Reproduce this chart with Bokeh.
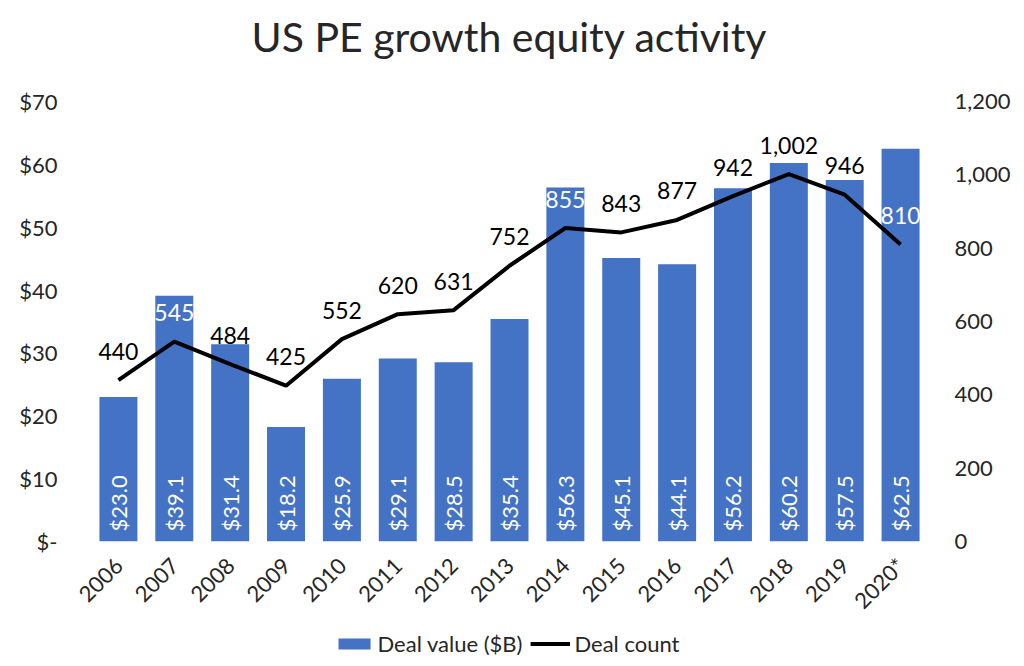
import math

from bokeh.core.properties import value
from bokeh.embed import file_html
from bokeh.layouts import column
from bokeh.models import (ColumnDataSource, FixedTicker, Legend, LegendItem,
                          LinearAxis, Range1d, Title)
from bokeh.plotting import figure
from bokeh.resources import INLINE

years = ['2006', '2007', '2008', '2009', '2010', '2011', '2012', '2013',
         '2014', '2015', '2016', '2017', '2018', '2019', '2020*']
deal_value = [23.0, 39.1, 31.4, 18.2, 25.9, 29.1, 28.5, 35.4,
              56.3, 45.1, 44.1, 56.2, 60.2, 57.5, 62.5]
deal_count = [440, 545, 484, 425, 552, 620, 631, 752,
              855, 843, 877, 942, 1002, 946, 810]

value_ticks = [0, 10, 20, 30, 40, 50, 60, 70]
count_ticks = [0, 200, 400, 600, 800, 1000, 1200]

FONT = 'Lato'
TXT = '#262626'
BLUE = '#4472C4'

# count labels sitting inside a bar are drawn white, others black
px_per_unit = 440 / 70
label_colors = []
for v, c in zip(deal_value, deal_count):
    mid = c * 70 / 1200 + 30 / px_per_unit
    label_colors.append('white' if mid < v else 'black')

src = ColumnDataSource(dict(
    year=years,
    value=deal_value,
    count=deal_count,
    value_txt=[f'${v:.1f}' for v in deal_value],
    count_txt=[f'{c:,}' for c in deal_count],
    lab_col=label_colors,
    zero=[0] * len(years),
))

p = figure(width=1008, height=625, x_range=years, y_range=Range1d(0, 70),
           title=None, output_backend='svg', toolbar_location=None,
           frame_width=838, frame_height=440,
           min_border_left=90, min_border_right=80,
           min_border_top=101, min_border_bottom=84)
p.extra_y_ranges = {'count': Range1d(0, 1200)}

# empty spacer title next to the frame, then the real title above it
p.add_layout(Title(text=' ', text_font=FONT, text_font_size='30px', standoff=0), 'above')
p.add_layout(Title(text='US PE growth equity activity', align='center',
                   text_font=FONT, text_font_size='41px', text_font_style='normal',
                   text_color=TXT, standoff=6), 'above')

bars = p.vbar(x='year', top='value', width=0.68, source=src,
              fill_color=BLUE, line_color=None)
line = p.line(x='year', y='count', source=src, y_range_name='count',
              line_color='black', line_width=4)

p.text(x='year', y='zero', text='value_txt', source=src, angle=math.pi / 2,
       text_align='left', text_baseline='middle', y_offset=-10,
       text_color='white', text_font=value(FONT), text_font_size='22px')
p.text(x='year', y='count', text='count_txt', source=src, y_range_name='count',
       text_align='center', text_baseline='alphabetic', y_offset=-29,
       text_color='lab_col', text_font=value(FONT), text_font_size='23px')

right = LinearAxis(y_range_name='count')
p.add_layout(right, 'right')

p.yaxis[0].ticker = FixedTicker(ticks=value_ticks)
p.yaxis[0].major_label_overrides = {t: ('$-' if t == 0 else f'${t}') for t in value_ticks}
right.ticker = FixedTicker(ticks=count_ticks)
right.major_label_overrides = {t: f'{t:,}' for t in count_ticks}

for ax in p.axis:
    ax.axis_line_color = None
    ax.major_tick_line_color = None
    ax.minor_tick_line_color = None
    ax.major_tick_out = 0
    ax.minor_tick_out = 0
    ax.major_label_text_font = FONT
    ax.major_label_text_font_size = '22px'
    ax.major_label_text_color = TXT
p.yaxis[0].major_label_standoff = 33
right.major_label_standoff = 26
p.xaxis.major_label_orientation = math.pi / 4
p.xaxis.major_label_standoff = 20

p.xgrid.grid_line_color = None
p.ygrid.grid_line_color = None
p.outline_line_color = None

# legend strip under the chart; its swatch renderers share the data but stay hidden
leg = figure(width=1008, height=34, x_range=years, output_backend='svg',
             toolbar_location=None, x_axis_location=None, y_axis_location=None,
             min_border=0)
leg.xgrid.grid_line_color = None
leg.ygrid.grid_line_color = None
leg.outline_line_color = None
sw_bar = leg.vbar(x='year', top='value', width=0.68, source=src,
                  fill_color=BLUE, line_color=None, visible=False)
sw_line = leg.line(x='year', y='count', source=src,
                   line_color='black', line_width=4, visible=False)

legend = Legend(items=[LegendItem(label='Deal value ($B)', renderers=[sw_bar]),
                       LegendItem(label='Deal count', renderers=[sw_line])],
                orientation='horizontal', location='center')
legend.label_text_font = FONT
legend.label_text_font_size = '22px'
legend.label_text_color = TXT
legend.glyph_width = 40
legend.glyph_height = 14
legend.label_height = 14
legend.spacing = 8
legend.label_standoff = 4
legend.border_line_color = None
legend.background_fill_color = None
legend.inactive_fill_alpha = 0
legend.padding = 0
legend.margin = 0
leg.add_layout(legend)

open('out.html', 'w').write(file_html(column(p, leg, spacing=0), INLINE))
